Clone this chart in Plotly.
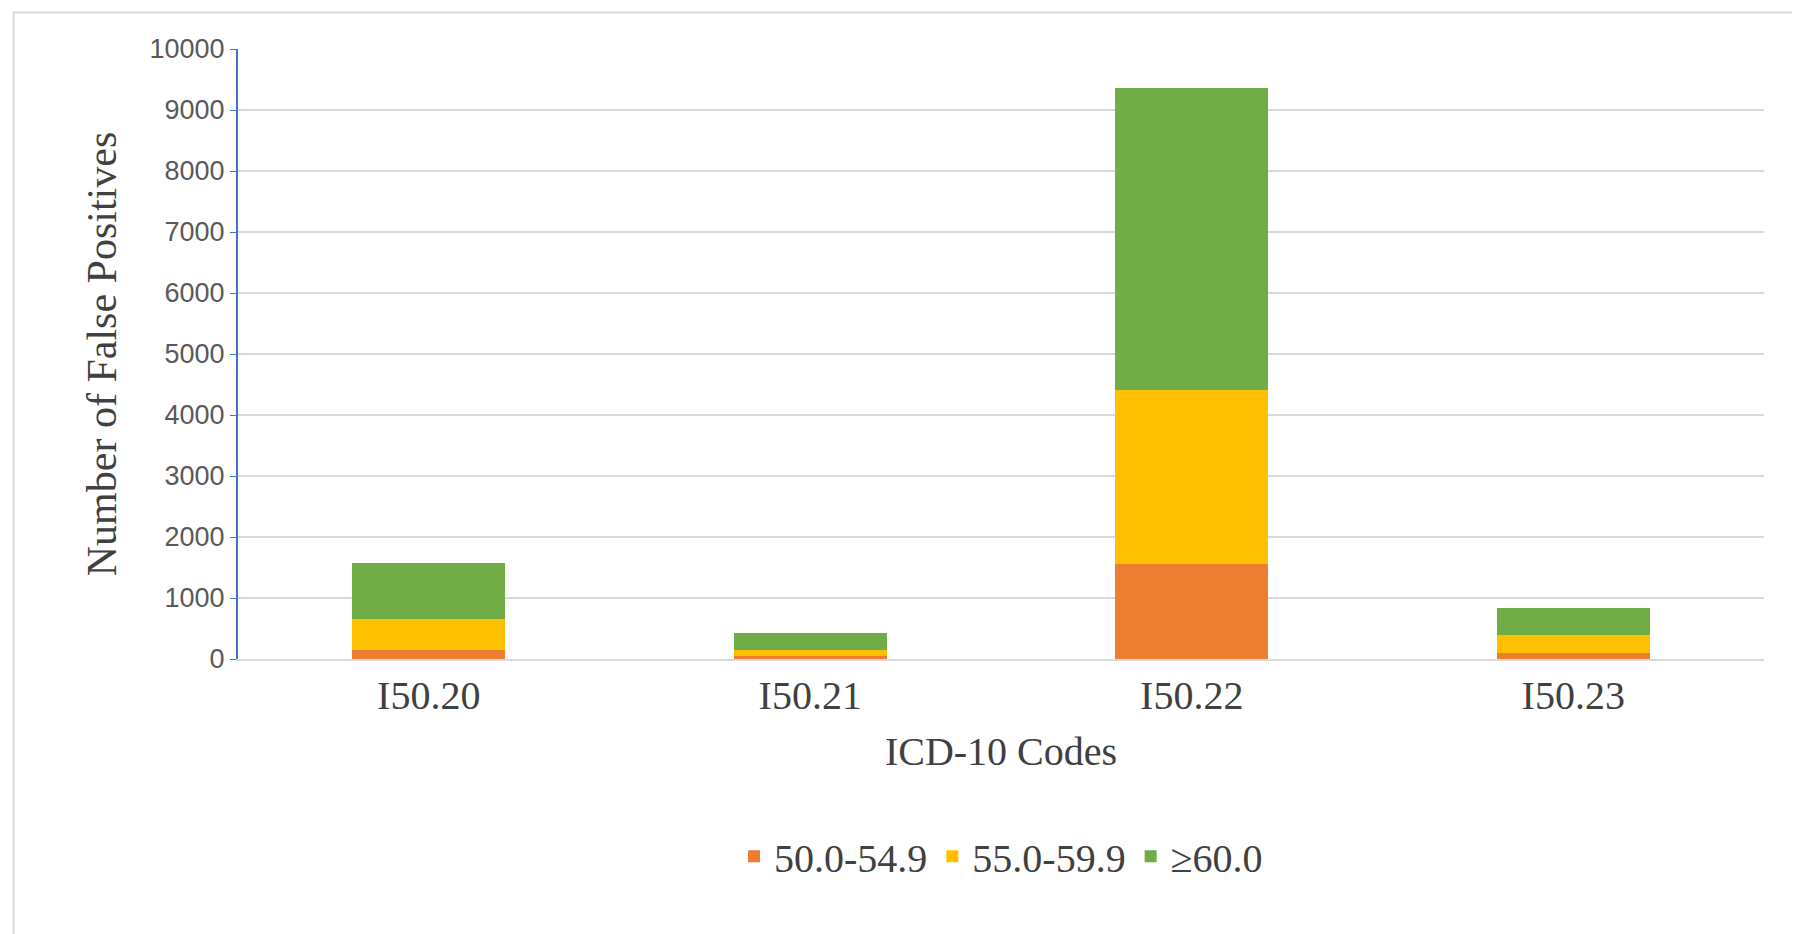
import plotly.graph_objects as go

codes = ["I50.20", "I50.21", "I50.22", "I50.23"]
series_names = ["50.0-54.9", "55.0-59.9", "≥60.0"]
vals_50 = [150, 50, 1550, 100]
vals_55 = [510, 100, 2860, 300]
vals_60 = [920, 280, 4950, 430]
colors = ["#ED7D31", "#FFC000", "#70AD47"]

fig = go.Figure()
for name, vals, col in zip(series_names, [vals_50, vals_55, vals_60], colors):
    fig.add_trace(go.Bar(x=codes, y=vals, name=name, marker=dict(color=col, line=dict(width=0))))

fig.update_layout(
    barmode="stack", bargap=0.6,
    width=1800, height=934,
    paper_bgcolor="white", plot_bgcolor="white",
    margin=dict(l=230, r=44, t=41, b=283),
    font=dict(family="Liberation Serif", color="#404040"),
    legend=dict(orientation="h", traceorder="normal", x=0.5, xanchor="center", y=-0.27, yanchor="top",
                font=dict(size=40, family="Liberation Serif", color="#404040")),
    shapes=[dict(type="rect", xref="paper", yref="paper", x0=-0.147, x1=1.026, y0=-0.46, y1=1.06,
                 line=dict(color="#D9D9D9", width=2))],
)
fig.update_xaxes(title=dict(text="ICD-10 Codes", font=dict(size=40, family="Liberation Serif", color="#404040"), standoff=20),
                 tickfont=dict(size=40, family="Liberation Serif", color="#404040"),
                 showline=True, linecolor="#D9D9D9", linewidth=2, ticks="")
fig.update_yaxes(title=dict(text="Number of False Positives", font=dict(size=42, family="Liberation Serif", color="#404040"), standoff=20),
                 tickfont=dict(size=27, family="Liberation Sans", color="#595959"),
                 range=[0, 10000], dtick=1000, tickformat="d", gridcolor="#D9D9D9", gridwidth=2,
                 showline=True, linecolor="#4472C4", linewidth=2, ticks="outside", ticklen=6, tickcolor="#4472C4",
                 zeroline=False)

fig.write_html("out.html")
